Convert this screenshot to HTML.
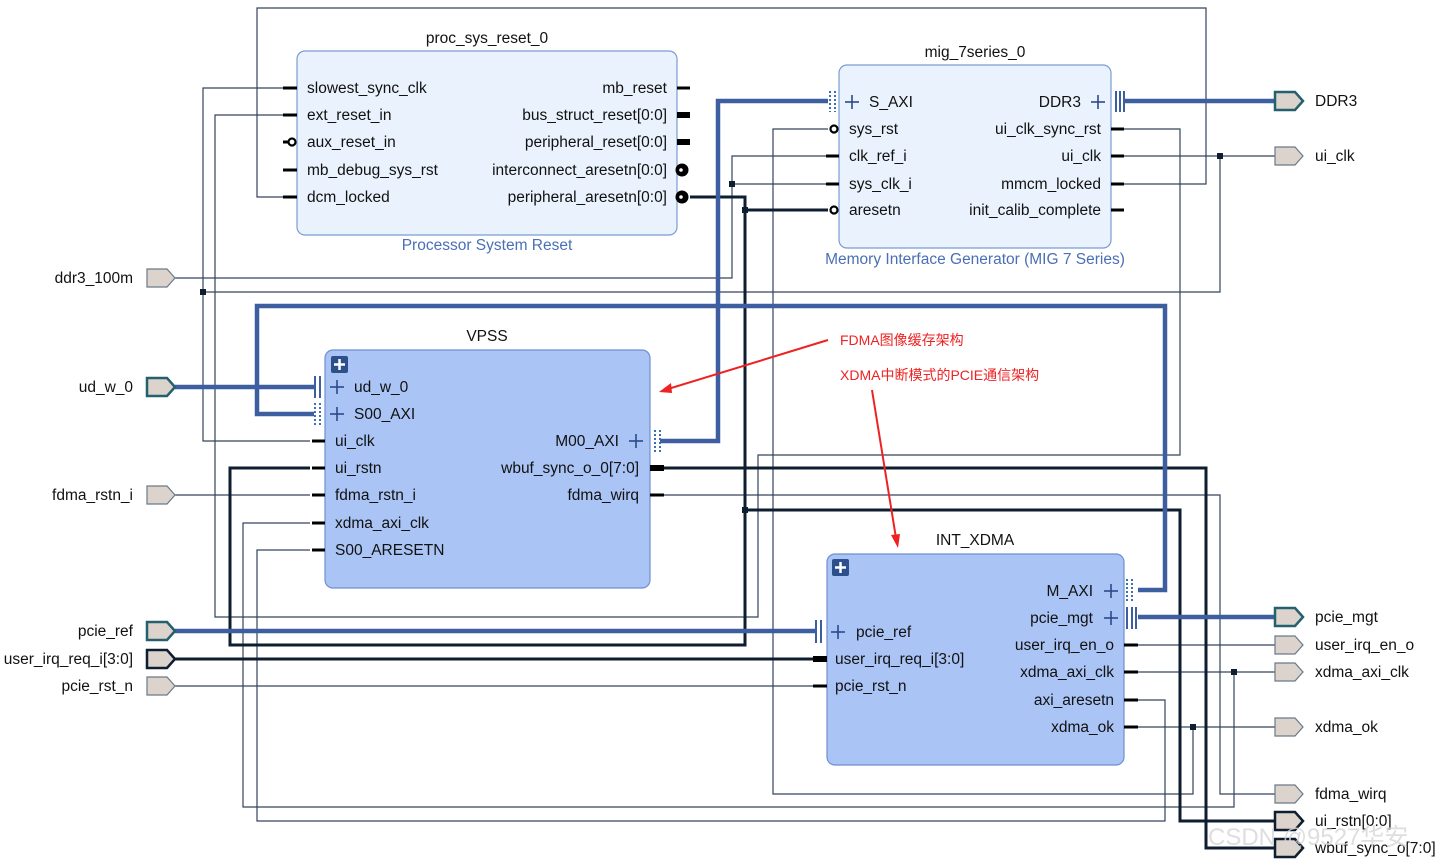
<!DOCTYPE html>
<html><head><meta charset="utf-8"><style>
html,body{margin:0;padding:0;background:#fff;}
svg{display:block;}
text{font-family:"Liberation Sans","Noto Sans CJK SC",sans-serif;font-size:15.5px;fill:#111;}
.sub{fill:#4a6fb5;font-size:15.5px}
.red{fill:#ee2222;font-size:14px}
.w{fill:none;stroke:#34445a;stroke-width:1.2}
.wk{fill:none;stroke:#0e1e30;stroke-width:3}
.wb{fill:none;stroke:#3d5fa0;stroke-width:4.5}
.pin{stroke:#000;stroke-width:3}
.pinb{stroke:#000;stroke-width:6}
</style></head><body>
<svg width="1440" height="863" viewBox="0 0 1440 863" xmlns="http://www.w3.org/2000/svg">
<path class="w" d="M1124,184 H1206 V8 H257 V197 H290"/>
<path class="w" d="M290,88 H203 V441 H310"/>
<path class="w" d="M203,292 H1220 V156"/>
<path class="w" d="M1124,156 H1275"/>
<path class="w" d="M290,115 H215 V617 H758 V455 H1180 V129 H1124"/>
<path class="w" d="M175,278 H732 V156 H828"/>
<path class="w" d="M732,184 H828"/>
<path class="w" d="M828,129 H773 V794 H1193 V727"/>
<path class="w" d="M1124,727 H1275"/>
<path class="w" d="M652,495 H1220 V794 H1275"/>
<path class="w" d="M1124,672 H1275"/>
<path class="w" d="M1234,672 V807 H243 V523 H310"/>
<path class="w" d="M1124,700 H1165 V821 H257 V550 H310"/>
<path class="w" d="M1124,645 H1275"/>
<path class="w" d="M175,495 H310"/>
<path class="w" d="M175,686 H815"/>
<path class="wk" d="M690,197 H745 V645 H230 V468 H310"/>
<path class="wk" d="M745,210 H828"/>
<path class="wk" d="M745,510 H1180 V821 H1275"/>
<path class="wk" d="M652,468 H1206 V848 H1275"/>
<path class="wk" d="M175,659 H815"/>
<path class="wb" d="M660,441 H718 V101 H828"/>
<path class="wb" d="M314,414 H257 V306 H1165 V590 H1138"/>
<path class="wb" d="M175,387 H314"/>
<path class="wb" d="M1124,101 H1275"/>
<path class="wb" d="M1138,617 H1275"/>
<path class="wb" d="M175,631 H815"/>
<g fill="#0e1e30"><rect x="200" y="289" width="6" height="6"/><rect x="729" y="181" width="6" height="6"/><rect x="1217" y="153" width="6" height="6"/><rect x="742" y="207" width="6" height="6"/><rect x="742" y="507" width="6" height="6"/><rect x="1231" y="669" width="6" height="6"/><rect x="1190" y="724" width="6" height="6"/></g>

<text x="487" y="43" text-anchor="middle">proc_sys_reset_0</text>
<rect x="297" y="51" width="380" height="184" rx="8" fill="#eaf3fd" stroke="#7a9bd0" stroke-width="1.2"/>
<text class="sub" x="487" y="250" text-anchor="middle">Processor System Reset</text>
<g class="pin"><line x1="283" y1="88" x2="297" y2="88"/><line x1="283" y1="115" x2="297" y2="115"/><line x1="283" y1="170" x2="297" y2="170"/><line x1="283" y1="197" x2="297" y2="197"/><line x1="677" y1="88" x2="690" y2="88"/></g>
<circle cx="292" cy="142" r="3.5" fill="#fff" stroke="#000" stroke-width="2.2"/><line x1="283" y1="142" x2="288" y2="142" stroke="#000" stroke-width="3"/>
<g class="pinb"><line x1="677" y1="115" x2="690" y2="115"/><line x1="677" y1="142" x2="690" y2="142"/></g>
<circle cx="682" cy="170" r="6.5" fill="#000"/><circle cx="682" cy="197" r="6.5" fill="#000"/>
<circle cx="681" cy="170" r="1.8" fill="#fff"/><circle cx="681" cy="197" r="1.8" fill="#fff"/>
<text x="307" y="93">slowest_sync_clk</text><text x="307" y="120">ext_reset_in</text><text x="307" y="147">aux_reset_in</text><text x="307" y="175">mb_debug_sys_rst</text><text x="307" y="202">dcm_locked</text>
<g text-anchor="end"><text x="667" y="93">mb_reset</text><text x="667" y="120">bus_struct_reset[0:0]</text><text x="667" y="147">peripheral_reset[0:0]</text><text x="667" y="175">interconnect_aresetn[0:0]</text><text x="667" y="202">peripheral_aresetn[0:0]</text></g>

<text x="975" y="57" text-anchor="middle">mig_7series_0</text>
<rect x="839" y="65" width="272" height="183" rx="8" fill="#eaf3fd" stroke="#7a9bd0" stroke-width="1.2"/>
<text class="sub" x="975" y="264" text-anchor="middle">Memory Interface Generator (MIG 7 Series)</text>
<g stroke="#3d6fb5" stroke-width="2" stroke-dasharray="2,2"><line x1="830" y1="91" x2="830" y2="112"/><line x1="835" y1="91" x2="835" y2="112"/></g>
<g stroke="#3d5fa0" stroke-width="2"><line x1="1116" y1="91" x2="1116" y2="112"/><line x1="1120" y1="91" x2="1120" y2="112"/><line x1="1124" y1="91" x2="1124" y2="112"/></g>
<g stroke="#2a4a8a" stroke-width="1.6"><line x1="845" y1="102" x2="859" y2="102"/><line x1="852" y1="95" x2="852" y2="109"/><line x1="1091" y1="102" x2="1105" y2="102"/><line x1="1098" y1="95" x2="1098" y2="109"/></g>
<g class="pin"><line x1="826" y1="156" x2="839" y2="156"/><line x1="826" y1="184" x2="839" y2="184"/><line x1="1111" y1="129" x2="1124" y2="129"/><line x1="1111" y1="156" x2="1124" y2="156"/><line x1="1111" y1="184" x2="1124" y2="184"/><line x1="1111" y1="210" x2="1124" y2="210"/></g>
<circle cx="834" cy="129" r="3.5" fill="#fff" stroke="#000" stroke-width="2.2"/><circle cx="834" cy="210" r="3.5" fill="#fff" stroke="#000" stroke-width="2.2"/>
<text x="869" y="107">S_AXI</text><text x="849" y="134">sys_rst</text><text x="849" y="161">clk_ref_i</text><text x="849" y="189">sys_clk_i</text><text x="849" y="215">aresetn</text>
<g text-anchor="end"><text x="1081" y="107">DDR3</text><text x="1101" y="134">ui_clk_sync_rst</text><text x="1101" y="161">ui_clk</text><text x="1101" y="189">mmcm_locked</text><text x="1101" y="215">init_calib_complete</text></g>

<text x="487" y="341" text-anchor="middle">VPSS</text>
<rect x="325" y="350" width="325" height="238" rx="8" fill="#a9c4f5" stroke="#6f8fcf" stroke-width="1.2"/>
<rect x="331" y="356" width="17" height="17" rx="2" fill="#2d4f8c"/><path d="M339.5,359v11M334,364.5h11" stroke="#fff" stroke-width="2.5"/>
<g stroke="#3d5fa0" stroke-width="2"><line x1="315" y1="376" x2="315" y2="398"/><line x1="320" y1="376" x2="320" y2="398"/></g>
<g stroke="#3d6fb5" stroke-width="2" stroke-dasharray="2,2"><line x1="315" y1="403" x2="315" y2="426"/><line x1="320" y1="403" x2="320" y2="426"/><line x1="655" y1="430" x2="655" y2="452"/><line x1="660" y1="430" x2="660" y2="452"/></g>
<g stroke="#2a4a8a" stroke-width="1.6"><line x1="330" y1="387" x2="344" y2="387"/><line x1="337" y1="380" x2="337" y2="394"/><line x1="330" y1="414" x2="344" y2="414"/><line x1="337" y1="407" x2="337" y2="421"/><line x1="629" y1="441" x2="643" y2="441"/><line x1="636" y1="434" x2="636" y2="448"/></g>
<g class="pin"><line x1="312" y1="441" x2="325" y2="441"/><line x1="312" y1="468" x2="325" y2="468"/><line x1="312" y1="495" x2="325" y2="495"/><line x1="312" y1="523" x2="325" y2="523"/><line x1="312" y1="550" x2="325" y2="550"/><line x1="650" y1="495" x2="664" y2="495"/></g>
<line class="pinb" x1="650" y1="468" x2="664" y2="468"/>
<text x="354" y="392">ud_w_0</text><text x="354" y="419">S00_AXI</text><text x="335" y="446">ui_clk</text><text x="335" y="473">ui_rstn</text><text x="335" y="500">fdma_rstn_i</text><text x="335" y="528">xdma_axi_clk</text><text x="335" y="555">S00_ARESETN</text>
<g text-anchor="end"><text x="619" y="446">M00_AXI</text><text x="639" y="473">wbuf_sync_o_0[7:0]</text><text x="639" y="500">fdma_wirq</text></g>

<text x="975" y="545" text-anchor="middle">INT_XDMA</text>
<rect x="827" y="554" width="297" height="211" rx="8" fill="#a9c4f5" stroke="#6f8fcf" stroke-width="1.2"/>
<rect x="832" y="559" width="17" height="17" rx="2" fill="#2d4f8c"/><path d="M840.5,562v11M835,567.5h11" stroke="#fff" stroke-width="2.5"/>
<g stroke="#3d6fb5" stroke-width="2" stroke-dasharray="2,2"><line x1="1127" y1="579" x2="1127" y2="602"/><line x1="1132" y1="579" x2="1132" y2="602"/></g>
<g stroke="#3d5fa0" stroke-width="2"><line x1="1127" y1="607" x2="1127" y2="629"/><line x1="1132" y1="607" x2="1132" y2="629"/><line x1="1136" y1="607" x2="1136" y2="629"/><line x1="816" y1="620" x2="816" y2="643"/><line x1="821" y1="620" x2="821" y2="643"/></g>
<g stroke="#2a4a8a" stroke-width="1.6"><line x1="1104" y1="591" x2="1118" y2="591"/><line x1="1111" y1="584" x2="1111" y2="598"/><line x1="1104" y1="618" x2="1118" y2="618"/><line x1="1111" y1="611" x2="1111" y2="625"/><line x1="831" y1="632" x2="845" y2="632"/><line x1="838" y1="625" x2="838" y2="639"/></g>
<line class="pinb" x1="813" y1="659" x2="827" y2="659"/>
<g class="pin"><line x1="813" y1="686" x2="827" y2="686"/><line x1="1124" y1="645" x2="1138" y2="645"/><line x1="1124" y1="672" x2="1138" y2="672"/><line x1="1124" y1="700" x2="1138" y2="700"/><line x1="1124" y1="727" x2="1138" y2="727"/></g>
<text x="856" y="637">pcie_ref</text><text x="835" y="664">user_irq_req_i[3:0]</text><text x="835" y="691">pcie_rst_n</text>
<g text-anchor="end"><text x="1093" y="596">M_AXI</text><text x="1093" y="623">pcie_mgt</text><text x="1114" y="650">user_irq_en_o</text><text x="1114" y="677">xdma_axi_clk</text><text x="1114" y="705">axi_aresetn</text><text x="1114" y="732">xdma_ok</text></g>

<g fill="#ddd3cd">
<path d="M147,269h20l8,9l-8,9h-20z" stroke="#6a7a88" stroke-width="1.2"/>
<path d="M147,378h20l8,9l-8,9h-20z" stroke="#24606e" stroke-width="2.5"/>
<path d="M147,486h20l8,9l-8,9h-20z" stroke="#6a7a88" stroke-width="1.2"/>
<path d="M147,622h20l8,9l-8,9h-20z" stroke="#24606e" stroke-width="2.5"/>
<path d="M147,650h20l8,9l-8,9h-20z" stroke="#0e1e30" stroke-width="2.5"/>
<path d="M147,677h20l8,9l-8,9h-20z" stroke="#6a7a88" stroke-width="1.2"/>
<path d="M1275,92h20l8,9l-8,9h-20z" stroke="#24606e" stroke-width="2.5"/>
<path d="M1275,147h20l8,9l-8,9h-20z" stroke="#6a7a88" stroke-width="1.2"/>
<path d="M1275,608h20l8,9l-8,9h-20z" stroke="#24606e" stroke-width="2.5"/>
<path d="M1275,636h20l8,9l-8,9h-20z" stroke="#6a7a88" stroke-width="1.2"/>
<path d="M1275,663h20l8,9l-8,9h-20z" stroke="#6a7a88" stroke-width="1.2"/>
<path d="M1275,718h20l8,9l-8,9h-20z" stroke="#6a7a88" stroke-width="1.2"/>
<path d="M1275,785h20l8,9l-8,9h-20z" stroke="#6a7a88" stroke-width="1.2"/>
<path d="M1275,812h20l8,9l-8,9h-20z" stroke="#0e1e30" stroke-width="2.5"/>
<path d="M1275,839h20l8,9l-8,9h-20z" stroke="#0e1e30" stroke-width="2.5"/>
</g>
<g text-anchor="end"><text x="133" y="283">ddr3_100m</text><text x="133" y="392">ud_w_0</text><text x="133" y="500">fdma_rstn_i</text><text x="133" y="636">pcie_ref</text><text x="133" y="664">user_irq_req_i[3:0]</text><text x="133" y="691">pcie_rst_n</text></g>
<text x="1315" y="106">DDR3</text><text x="1315" y="161">ui_clk</text><text x="1315" y="622">pcie_mgt</text><text x="1315" y="650">user_irq_en_o</text><text x="1315" y="677">xdma_axi_clk</text><text x="1315" y="732">xdma_ok</text><text x="1315" y="799">fdma_wirq</text><text x="1315" y="826">ui_rstn[0:0]</text><text x="1315" y="853">wbuf_sync_o[7:0]</text>
<text x="1208" y="845" style="font-size:24px;fill:#d6d6d6;opacity:0.8">CSDN @9527华安</text>

<text class="red" x="840" y="345">FDMA图像缓存架构</text>
<text class="red" x="840" y="380">XDMA中断模式的PCIE通信架构</text>
<line x1="828" y1="340" x2="668" y2="389" stroke="#ee2222" stroke-width="2"/>
<path d="M659,392 L671,383 L672,393 z" fill="#ee2222"/>
<line x1="872" y1="390" x2="896" y2="538" stroke="#ee2222" stroke-width="2"/>
<path d="M898,548 L891,535 L900,534 z" fill="#ee2222"/>
</svg>
</body></html>
